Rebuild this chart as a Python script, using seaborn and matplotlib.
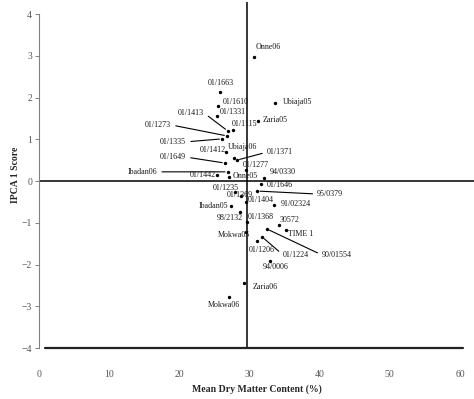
import numpy as np
import pandas as pd
import matplotlib
matplotlib.use('Agg')
import matplotlib.pyplot as plt
import seaborn as sns

sns.set_style('white')
plt.rcParams['font.family'] = ['Liberation Serif', 'DejaVu Serif']

# ── Data ───────────────────────────────────────────────────
genotypes = ['Onne06', '01/1663', '01/1610', 'Ubiaja05', '01/1331', 'Zaria05',
             '01/1115', '01/1413', '01/1273', '01/1335', '01/1412', 'Ubiaja06',
             '01/1371', '01/1649', '01/1277', 'Ibadan06', '01/1442', 'Onne05',
             '94/0330', '01/1646', '95/0379', '01/1235', '01/1369', '01/1404',
             '91/02324', 'Ibadan05', '98/2132', '01/1368', '30572', 'TIME 1',
             '90/01554', 'Mokwa05', '01/1224', '01/1206', '94/0006', 'Zaria06',
             'Mokwa06']
dry_matter = [30.6, 25.8, 25.5, 33.6, 25.4, 31.2,
              27.6, 26.9, 26.8, 26.1, 26.6, 27.8,
              28.2, 26.5, 29.5, 26.9, 25.4, 27.1,
              32.1, 31.6, 31.1, 27.9, 28.8, 29.5,
              33.5, 27.4, 28.6, 29.6, 34.2, 35.2,
              32.5, 29.5, 31.8, 31.1, 32.9, 29.2,
              27.1]
ipca1 = [2.97, 2.13, 1.80, 1.87, 1.56, 1.44,
         1.22, 1.20, 1.08, 1.01, 0.69, 0.55,
         0.50, 0.43, 0.26, 0.22, 0.14, 0.10,
         0.07, -0.07, -0.24, -0.26, -0.36, -0.50,
         -0.57, -0.60, -0.74, -0.98, -1.05, -1.17,
         -1.15, -1.22, -1.34, -1.44, -1.92, -2.44,
         -2.78]
grand_mean = 29.6

df = pd.DataFrame({'genotype': genotypes, 'dm': dry_matter, 'ipca': ipca1})

# label offsets in pixels (dx, dy, leader line?)
label_pos = {
    'Onne06': (2, 10, False), '01/1663': (-12, 9, False), '01/1610': (5, 4, False),
    'Ubiaja05': (8, 1, False), '01/1331': (3, 4, False), 'Zaria05': (5, 1, False),
    '01/1115': (-1, 6, False), '01/1413': (-50, 18, True), '01/1273': (-82, 11, True),
    '01/1335': (-62, -3, True), '01/1412': (-26, 2, False), 'Ubiaja06': (-6, 11, False),
    '01/1371': (30, 8, True), '01/1649': (-65, 6, True), '01/1277': (-3, 5, False),
    'Ibadan06': (-100, 0, True), '01/1442': (-27, 0, False), 'Onne05': (3, 1, False),
    '94/0330': (6, 6, False), '01/1646': (6, -1, False), '95/0379': (60, -3, True),
    '01/1235': (-22, 4, False), '01/1369': (-14, 1, False), '01/1404': (2, 2, False),
    '91/02324': (7, 1, False), 'Ibadan05': (-33, 0, False), '98/2132': (-23, -6, False),
    '01/1368': (1, 5, False), '30572': (1, 5, False), 'TIME 1': (2, -4, False),
    '90/01554': (55, -26, True), 'Mokwa05': (-28, -3, False), '01/1224': (21, -18, True),
    '01/1206': (-8, -9, False), '94/0006': (-7, -6, False), 'Zaria06': (9, -4, False),
    'Mokwa06': (-21, -8, False),
}

fig = plt.figure(figsize=(4.74, 3.99), dpi=100)
ax = fig.add_axes([0.0823, 0.1278, 0.9177, 0.8684])

sns.scatterplot(data=df, x='dm', y='ipca', ax=ax, color='black', s=6,
                edgecolor='black', linewidth=0, zorder=3, legend=False)

for g, x, y in zip(genotypes, dry_matter, ipca1):
    dx, dy, lead = label_pos[g]
    kw = {}
    if lead:
        kw['arrowprops'] = dict(arrowstyle='-', color='black', lw=0.8,
                                shrinkA=1, shrinkB=2,
                                relpos=(1, 0.5) if dx < 0 else (0, 0.5))
    ax.annotate(g, (x, y), xytext=(dx, dy), textcoords='offset pixels',
                ha='left', va='center', fontsize=5.8, color='#1a1a1a', **kw)

# reference lines
ax.axhline(0, color='black', lw=1.1, zorder=1)
ax.axvline(grand_mean, ymin=0, ymax=1, color='black', lw=1.1, zorder=1)
ax.plot([0.85, 60.4], [-4, -4], color='#222222', lw=1.6, clip_on=False)

ax.set_xlim(0, 62)
ax.set_ylim(-4, 4.3)
ax.set_xticks(np.arange(0, 61, 10))
ax.set_yticks(np.arange(-4, 5, 1))
for s in ['top', 'right', 'bottom']:
    ax.spines[s].set_visible(False)
ax.spines['left'].set_bounds(-4, 4)
ax.spines['left'].set_color('#808080')
ax.spines['left'].set_linewidth(0.8)
ax.tick_params(axis='x', length=0, pad=16, labelsize=7, labelcolor='#555555')
ax.tick_params(axis='y', length=3, width=0.7, color='#808080', direction='out',
               pad=2, labelsize=7, labelcolor='#555555', left=True)

ax.set_xlabel('Mean Dry Matter Content (%)', fontsize=7, fontweight='bold', labelpad=4)
ax.set_ylabel('IPCA 1 Score', fontsize=7, fontweight='bold', labelpad=1)

fig.savefig('out.png', dpi=100)
